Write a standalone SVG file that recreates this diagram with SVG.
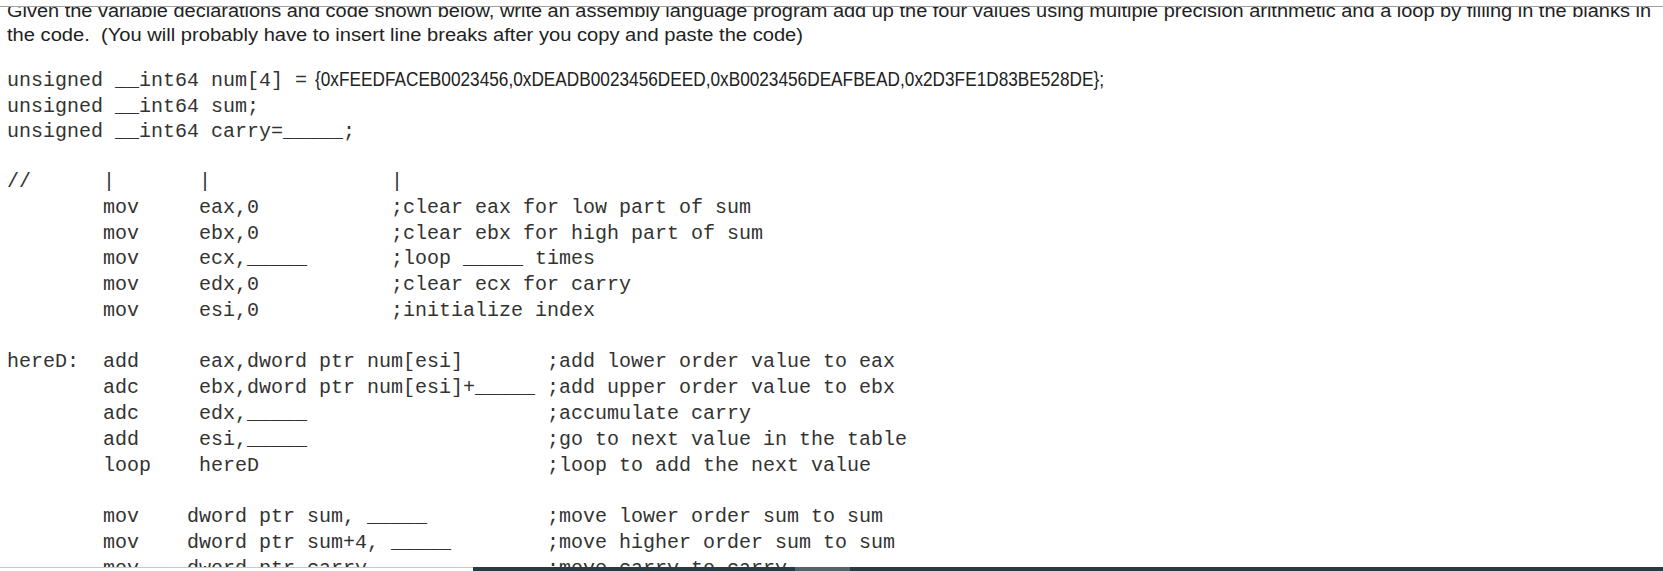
<svg xmlns="http://www.w3.org/2000/svg" width="1663" height="571" viewBox="0 0 1663 571">
<style>
.s{font-family:"Liberation Sans",Arial,sans-serif;font-size:18.7px;fill:#222}
.m{font-family:"Liberation Mono","Courier New",monospace;font-size:20px;fill:#333;white-space:pre}
</style>
<rect width="1663" height="571" fill="#fff"/>
<g id="intro">
<text class="s" x="7" y="17" textLength="1644" lengthAdjust="spacingAndGlyphs">Given the variable declarations and code shown below, write an assembly language program add up the four values using multiple precision arithmetic and a loop by filling in the blanks in</text>
<text class="s" x="7" y="41" textLength="796" lengthAdjust="spacingAndGlyphs" xml:space="preserve">the code.  (You will probably have to insert line breaks after you copy and paste the code)</text>
</g>
<g id="decls">
<text class="m" x="7" y="86" xml:space="preserve">unsigned __int64 num[4] =</text>
<text class="s" x="315" y="86" style="font-size:20px" textLength="789" lengthAdjust="spacingAndGlyphs">{0xFEEDFACEB0023456,0xDEADB0023456DEED,0xB0023456DEAFBEAD,0x2D3FE1D83BE528DE};</text>
<text class="m" x="7" y="112" xml:space="preserve">unsigned __int64 sum;</text>
<text class="m" x="7" y="137" xml:space="preserve">unsigned __int64 carry=_____;</text>
</g>
<g id="init">
<text class="m" x="7" y="187">//</text>
<text class="m" x="103" y="187">|</text>
<text class="m" x="199" y="187">|</text>
<text class="m" x="391" y="187">|</text>
<text class="m" x="103" y="213">mov</text><text class="m" x="199" y="213">eax,0</text><text class="m" x="391" y="213">;clear eax for low part of sum</text>
<text class="m" x="103" y="239">mov</text><text class="m" x="199" y="239">ebx,0</text><text class="m" x="391" y="239">;clear ebx for high part of sum</text>
<text class="m" x="103" y="264">mov</text><text class="m" x="199" y="264">ecx,_____</text><text class="m" x="391" y="264" xml:space="preserve">;loop _____ times</text>
<text class="m" x="103" y="290">mov</text><text class="m" x="199" y="290">edx,0</text><text class="m" x="391" y="290">;clear ecx for carry</text>
<text class="m" x="103" y="316">mov</text><text class="m" x="199" y="316">esi,0</text><text class="m" x="391" y="316">;initialize index</text>
</g>
<g id="loop">
<text class="m" x="7" y="367">hereD:</text>
<text class="m" x="103" y="367">add</text><text class="m" x="199" y="367">eax,dword ptr num[esi]</text><text class="m" x="547" y="367">;add lower order value to eax</text>
<text class="m" x="103" y="393">adc</text><text class="m" x="199" y="393">ebx,dword ptr num[esi]+_____</text><text class="m" x="547" y="393">;add upper order value to ebx</text>
<text class="m" x="103" y="419">adc</text><text class="m" x="199" y="419">edx,_____</text><text class="m" x="547" y="419">;accumulate carry</text>
<text class="m" x="103" y="445">add</text><text class="m" x="199" y="445">esi,_____</text><text class="m" x="547" y="445">;go to next value in the table</text>
<text class="m" x="103" y="471">loop</text><text class="m" x="199" y="471">hereD</text><text class="m" x="547" y="471">;loop to add the next value</text>
</g>
<g id="store">
<text class="m" x="103" y="522">mov</text><text class="m" x="187" y="522" xml:space="preserve">dword ptr sum, _____</text><text class="m" x="547" y="522">;move lower order sum to sum</text>
<text class="m" x="103" y="548">mov</text><text class="m" x="187" y="548" xml:space="preserve">dword ptr sum+4, _____</text><text class="m" x="547" y="548">;move higher order sum to sum</text>
<text class="m" x="103" y="574">mov</text><text class="m" x="187" y="574" xml:space="preserve">dword ptr carry</text><text class="m" x="547" y="574">;move carry to carry</text>
</g>
<g id="frame">
<rect x="0" y="0" width="1663" height="6" fill="#fff"/>
<rect x="0" y="6" width="1663" height="1" fill="#a0a0a0"/>
<rect x="0" y="567" width="1663" height="4" fill="#fff"/>
<rect x="0" y="567" width="473" height="1" fill="#c8c8c8"/>
<rect x="473" y="567" width="1190" height="4" fill="#2b3a42"/>
<rect x="795" y="567" width="55" height="4" fill="#56636a"/>
</g>
</svg>
